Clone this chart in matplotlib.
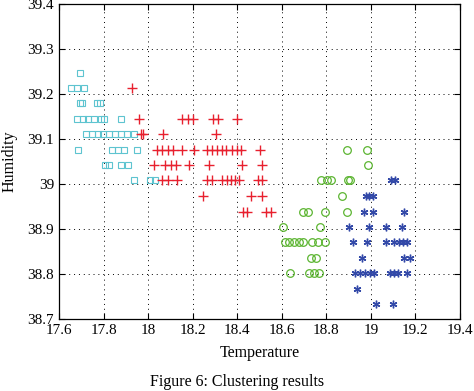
import matplotlib
matplotlib.use("Agg")
import matplotlib.pyplot as plt

# ---- data ----
cyan_x = [17.693,
          17.653, 17.679, 17.714,
          17.693, 17.702, 17.771, 17.783,
          17.682, 17.706, 17.730, 17.756, 17.790, 17.803, 17.880,
          17.720, 17.747, 17.774, 17.799, 17.826, 17.853, 17.880, 17.905, 17.938,
          17.684, 17.839, 17.866, 17.893, 17.949,
          17.808, 17.824, 17.880, 17.908,
          17.938, 18.007, 18.032]
cyan_y = [39.247,
          39.213, 39.213, 39.213,
          39.179, 39.179, 39.179, 39.179,
          39.144, 39.144, 39.144, 39.144, 39.144, 39.144, 39.144,
          39.110, 39.110, 39.110, 39.110, 39.110, 39.110, 39.110, 39.110, 39.110,
          39.076, 39.076, 39.076, 39.076, 39.076,
          39.042, 39.042, 39.042, 39.042,
          39.008, 39.008, 39.008]

red_x = [17.929,
         17.959, 18.153, 18.178, 18.203, 18.293, 18.312, 18.398,
         17.966, 17.977, 18.065, 18.305,
         18.039, 18.064, 18.088, 18.110, 18.153, 18.206, 18.266, 18.288, 18.310,
         18.333, 18.350, 18.378, 18.398, 18.416, 18.502,
         18.028, 18.076, 18.101, 18.125, 18.185, 18.273, 18.423, 18.510,
         18.062, 18.089, 18.130, 18.266, 18.285, 18.333, 18.353, 18.372, 18.390,
         18.408, 18.495, 18.510,
         18.245, 18.460, 18.510,
         18.427, 18.442, 18.528, 18.550]
red_y = [39.213,
         39.144, 39.144, 39.144, 39.144, 39.144, 39.144, 39.144,
         39.110, 39.110, 39.110, 39.110,
         39.076, 39.076, 39.076, 39.076, 39.076, 39.076, 39.076, 39.076, 39.076,
         39.076, 39.076, 39.076, 39.076, 39.076, 39.076,
         39.042, 39.042, 39.042, 39.042, 39.042, 39.042, 39.042, 39.042,
         39.008, 39.008, 39.008, 39.008, 39.008, 39.008, 39.008, 39.008, 39.008,
         39.008, 39.008, 39.008,
         38.973, 38.973, 38.973,
         38.939, 38.939, 38.939, 38.939]

green_x = [18.891, 18.981,
           18.988,
           18.774, 18.803, 18.821, 18.899, 18.908,
           18.872,
           18.695, 18.719, 18.794, 18.891,
           18.604, 18.772,
           18.614, 18.632, 18.655, 18.677, 18.693, 18.734, 18.764, 18.794,
           18.732, 18.752,
           18.637, 18.722, 18.745, 18.769]
green_y = [39.076, 39.076,
           39.042,
           39.008, 39.008, 39.008, 39.008, 39.008,
           38.973,
           38.939, 38.939, 38.939, 38.939,
           38.905, 38.905,
           38.871, 38.871, 38.871, 38.871, 38.871, 38.871, 38.871, 38.871,
           38.837, 38.837,
           38.802, 38.802, 38.802, 38.802]

blue_x = [19.089, 19.108,
          18.977, 18.993, 19.011,
          18.969, 19.008, 19.148,
          18.903, 18.990, 19.068, 19.138,
          18.921, 18.981, 19.068, 19.104, 19.124, 19.144, 19.164,
          18.959, 19.148, 19.175,
          18.929, 18.951, 18.973, 18.996, 19.014, 19.086, 19.104, 19.120, 19.163,
          18.939,
          19.023, 19.100]
blue_y = [39.008, 39.008,
          38.973, 38.973, 38.973,
          38.939, 38.939, 38.939,
          38.905, 38.905, 38.905, 38.905,
          38.871, 38.871, 38.871, 38.871, 38.871, 38.871, 38.871,
          38.837, 38.837, 38.837,
          38.802, 38.802, 38.802, 38.802, 38.802, 38.802, 38.802, 38.802, 38.802,
          38.768,
          38.734, 38.734]

x_ticks = [17.6, 17.8, 18.0, 18.2, 18.4, 18.6, 18.8, 19.0, 19.2, 19.4]
x_labels = ["17.6", "17.8", "18", "18.2", "18.4", "18.6", "18.8", "19", "19.2", "19.4"]
y_ticks = [38.7, 38.8, 38.9, 39.0, 39.1, 39.2, 39.3, 39.4]
y_labels = ["38.7", "38.8", "38.9", "39", "39.1", "39.2", "39.3", "39.4"]

# ---- figure ----
plt.rcParams["font.family"] = ["Liberation Serif", "DejaVu Serif"]
fig = plt.figure(figsize=(4.74, 3.91), dpi=100)
ax = fig.add_axes([0.1245, 0.1834, 0.846, 0.8074])

ax.plot(cyan_x, cyan_y, ls="none", marker="s", ms=4.6, mfc="none",
        mec="#5ec4d0", mew=0.8)
ax.plot(red_x, red_y, ls="none", marker="+", ms=6.5, mec="#e8202e", mew=1.0)
ax.plot(green_x, green_y, ls="none", marker="o", ms=5.5, mfc="none",
        mec="#5cb531", mew=0.9)
ax.plot(blue_x, blue_y, ls="none", marker=(6, 2, 0), ms=5.5, mec="#3349a8",
        mew=1.0)

ax.set_xlim(17.6, 19.4)
ax.set_ylim(38.7, 39.4)
ax.set_xticks(x_ticks)
ax.set_xticklabels(x_labels)
ax.set_yticks(y_ticks)
ax.set_yticklabels(y_labels)
ax.tick_params(direction="in", length=4, width=0.8, labelsize=11,
               top=True, right=True, colors="black")
ax.grid(True, linestyle=(0, (1, 4)), color="black", lw=0.7)
for s in ax.spines.values():
    s.set_linewidth(0.9)

ax.set_xlabel("Temperature", fontsize=11.5, labelpad=6)
ax.set_ylabel("Humidity", fontsize=11.5, labelpad=7)

# caption, mostly cut off in the source image
fig.text(0.5, 0.003, "Figure 6: Clustering results", ha="center", va="bottom",
         fontsize=11.5)

fig.savefig("out.png", dpi=100)
